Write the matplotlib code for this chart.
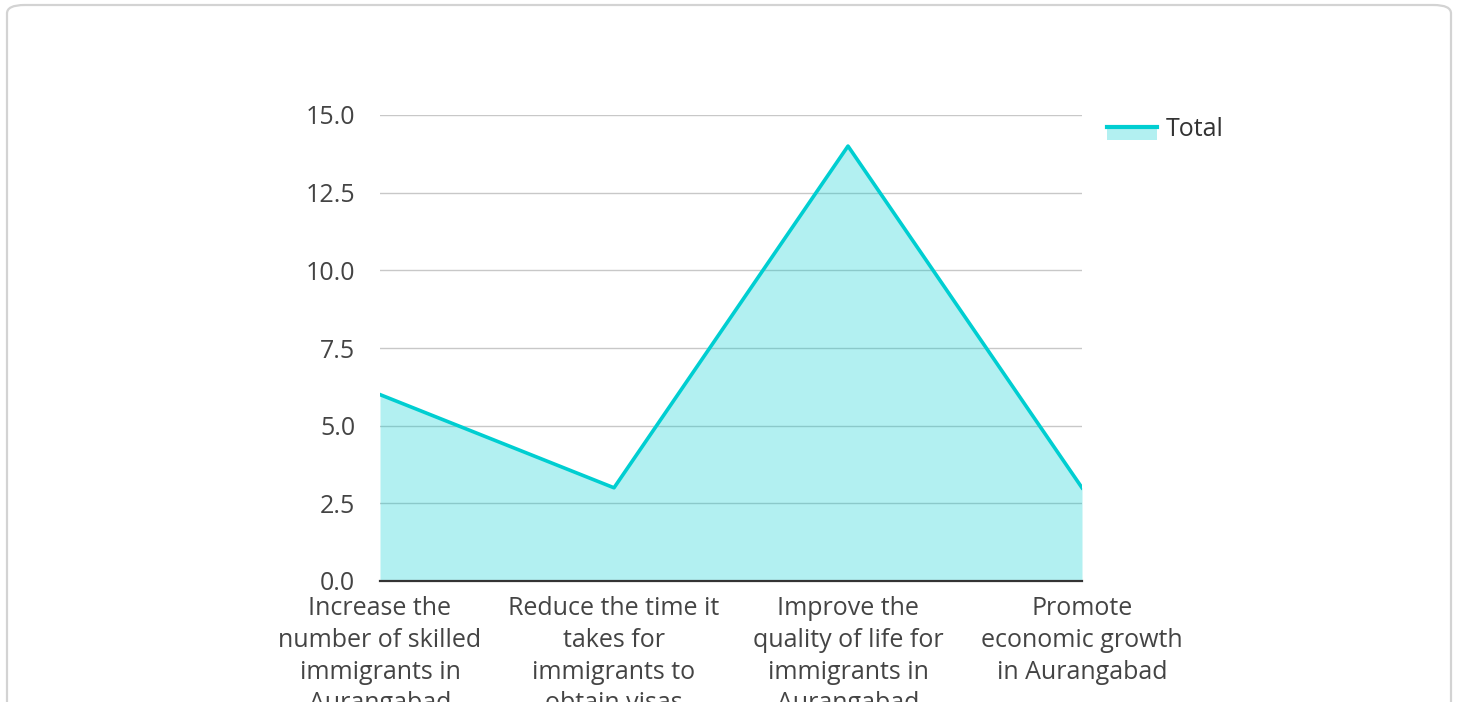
import matplotlib.pyplot as plt
from matplotlib.patches import FancyBboxPatch, Rectangle
from matplotlib.lines import Line2D

categories = [
    "Increase the\nnumber of skilled\nimmigrants in\nAurangabad",
    "Reduce the time it\ntakes for\nimmigrants to\nobtain visas",
    "Improve the\nquality of life for\nimmigrants in\nAurangabad",
    "Promote\neconomic growth\nin Aurangabad",
]
totals = [6, 3, 14, 3]
y_ticks = [0.0, 2.5, 5.0, 7.5, 10.0, 12.5, 15.0]
series_name = "Total"

line_color = "#00CED1"
text_color = "#444444"

plt.rcParams["font.family"] = ["Open Sans", "Noto Sans", "DejaVu Sans"]

W, H = 1458, 702
fig = plt.figure(figsize=(W / 100, H / 100), dpi=100)

# card background with rounded border
card = FancyBboxPatch((7 / W, -30 / H), (1451 - 7) / W, (H - 5 + 30) / H,
                      boxstyle="round,pad=0,rounding_size=0.012",
                      transform=fig.transFigure, facecolor="white",
                      edgecolor="#d3d3d3", linewidth=1.6, zorder=-5)
fig.patches.append(card)

ax = fig.add_axes([380 / W, 121 / H, (1082 - 380) / W, (581 - 115) / H])
ax.set_zorder(2)
ax.set_facecolor("none")
x = list(range(len(categories)))
ax.fill_between(x, totals, 0, color=line_color, alpha=0.3, linewidth=0, zorder=2)
ax.plot(x, totals, color=line_color, linewidth=2.6, zorder=3)

ax.set_xlim(0, len(categories) - 1)
ax.set_ylim(0, 15)
ax.set_yticks(y_ticks)
ax.set_yticklabels([f"{v:.1f}" for v in y_ticks])
ax.set_xticks(x)
ax.set_xticklabels(categories, linespacing=1.35)
ax.grid(axis="y", color="#c8c8c8", linewidth=1, zorder=1)
ax.set_axisbelow(True)
for s in ["top", "right", "left"]:
    ax.spines[s].set_visible(False)
ax.spines["bottom"].set_color("#333333")
ax.spines["bottom"].set_linewidth(1.6)
ax.spines["bottom"].set_zorder(4)
ax.tick_params(axis="both", length=0, labelsize=18, colors=text_color)
ax.tick_params(axis="x", pad=11)
ax.tick_params(axis="y", pad=18)

# legend drawn by hand: fill box with the line on its top edge
fig.patches.append(Rectangle((1107 / W, 1 - 140 / H), 50 / W, 14 / H,
                             transform=fig.transFigure, facecolor=line_color,
                             alpha=0.3, linewidth=0, zorder=3))
fig.lines.append(Line2D([1107 / W, 1157 / W], [1 - 127 / H, 1 - 127 / H],
                        transform=fig.transFigure, color=line_color,
                        linewidth=3, zorder=4))
fig.text(1166 / W, 1 - 130 / H, series_name, fontsize=18, color="#333333",
         ha="left", va="center")

fig.savefig("out.png", dpi=100)
